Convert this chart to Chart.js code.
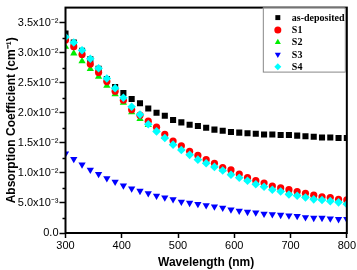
<!DOCTYPE html>
<html>
<head>
<meta charset="utf-8">
<script src="https://cdn.jsdelivr.net/npm/chart.js@4.4.0/dist/chart.umd.min.js"></script>
<style>
  html, body { margin: 0; padding: 0; background: #fff; }
  #chart { display: block; }
</style>
</head>
<body>
<canvas id="chart" width="357" height="270"></canvas>
<script>
// wavelength (nm)
const wavelengths = [300, 314.7, 329.4, 344.1, 358.8, 373.5, 388.2, 402.9, 417.6, 432.4,
    447.1, 461.8, 476.5, 491.2, 505.9, 520.6, 535.3, 550, 564.7, 579.4,
    594.1, 608.8, 623.5, 638.2, 652.9, 667.6, 682.4, 697.1, 711.8, 726.5,
    741.2, 755.9, 770.6, 785.3, 800];

const asDeposited = [0.0332, 0.0317, 0.0303, 0.0289, 0.0273, 0.0256, 0.0243, 0.0233, 0.0223, 0.0216,
    0.0207, 0.0200, 0.0195, 0.0188, 0.0184, 0.0180, 0.0178, 0.0175, 0.0172, 0.0170,
    0.0168, 0.0167, 0.0166, 0.0165, 0.0164, 0.0164, 0.0163, 0.0163, 0.0162, 0.0161,
    0.0160, 0.0159, 0.0159, 0.0158, 0.0158];

const s1 = [0.0321, 0.0310, 0.0297, 0.0281, 0.0267, 0.0252, 0.0236, 0.0221, 0.0205, 0.0196,
    0.0186, 0.0176, 0.0164, 0.0153, 0.0145, 0.0136, 0.0129, 0.0122, 0.0116, 0.0109,
    0.0105, 0.0098, 0.0092, 0.0087, 0.0083, 0.0078, 0.0075, 0.0072, 0.0069, 0.0066,
    0.0063, 0.0060, 0.0059, 0.0056, 0.0055];

const s2 = [0.0310, 0.0299, 0.0286, 0.0273, 0.0260, 0.0245, 0.0231, 0.0217, 0.0201, 0.0190,
    0.0180, 0.0172, 0.0160, 0.0150, 0.0141, 0.0133, 0.0125, 0.0119, 0.0112, 0.0106,
    0.0101, 0.0095, 0.0089, 0.0084, 0.0080, 0.0075, 0.0072, 0.0068, 0.0066, 0.0063,
    0.0060, 0.0058, 0.0056, 0.0054, 0.0052];

const s3 = [0.0132, 0.0123, 0.0114, 0.0105, 0.0098, 0.0091, 0.0085, 0.0079, 0.0074, 0.0070,
    0.0066, 0.0062, 0.0059, 0.0056, 0.0052, 0.0050, 0.0048, 0.0046, 0.0044, 0.0042,
    0.0039, 0.0037, 0.0035, 0.0034, 0.0032, 0.0031, 0.0030, 0.0029, 0.0028, 0.0026,
    0.0025, 0.0025, 0.0024, 0.0023, 0.0023];

const s4 = [0.0326, 0.0317, 0.0304, 0.0290, 0.0274, 0.0257, 0.0241, 0.0225, 0.0210, 0.0197,
    0.0181, 0.0169, 0.0158, 0.0147, 0.0138, 0.0130, 0.0122, 0.0116, 0.0110, 0.0104,
    0.0097, 0.0092, 0.0087, 0.0081, 0.0077, 0.0072, 0.0069, 0.0064, 0.0062, 0.0059,
    0.0056, 0.0055, 0.0053, 0.0051, 0.0048];

const seriesNames = ['as-deposited', 'S1', 'S2', 'S3', 'S4'];

const xTickValues = [300, 400, 500, 600, 700, 800];
const yTickValues = [0, 0.005, 0.01, 0.015, 0.02, 0.025, 0.03, 0.035];
const yTickLabels = ['0.0', '5.0x10\u207B\u00B3', '1.0x10\u207B\u00B2', '1.5x10\u207B\u00B2',
    '2.0x10\u207B\u00B2', '2.5x10\u207B\u00B2', '3.0x10\u207B\u00B2', '3.5x10\u207B\u00B2'];
const yMinorValues = [0.0025, 0.0075, 0.0125, 0.0175, 0.0225, 0.0275, 0.0325];

const toPoints = (ys) => ys.map((y, i) => ({ x: wavelengths[i], y: y }));

const tickFont = { family: 'Liberation Sans, Arial, sans-serif', size: 11 };
const titleFont = { family: 'Liberation Sans, Arial, sans-serif', size: 12, weight: 'bold' };

// frame round the plot, minor ticks on y, legend box inside the plot
const framePlugin = {
    id: 'frame',
    afterDraw(chart) {
        const ctx = chart.ctx;
        const a = chart.chartArea;
        const ys = chart.scales.y;
        ctx.save();
        ctx.strokeStyle = '#000';
        ctx.lineWidth = 1.5;
        yMinorValues.forEach((v) => {
            const py = Math.round(ys.getPixelForValue(v)) + 0.5;
            ctx.beginPath();
            ctx.moveTo(a.left - 3, py);
            ctx.lineTo(a.left, py);
            ctx.stroke();
        });
        ctx.lineWidth = 2;
        ctx.strokeRect(a.left, a.top, a.right - a.left, a.bottom - a.top);

        // legend
        const bw = 82, bh = 64;
        const bx = a.right - 2 - bw, by = a.top;
        ctx.fillStyle = '#fff';
        ctx.fillRect(bx, by, bw, bh);
        ctx.lineWidth = 1;
        ctx.strokeStyle = '#888';
        ctx.strokeRect(bx + 0.5, by + 0.5, bw, bh);
        ctx.font = 'bold 10px "Liberation Serif", "Times New Roman", serif';
        ctx.textBaseline = 'middle';
        chart.data.datasets.forEach((ds, i) => {
            const ry = by + 10 + i * 12.3;
            ctx.fillStyle = ds.backgroundColor;
            Chart.helpers.drawPoint(ctx, {
                pointStyle: ds.pointStyle,
                rotation: ds.pointRotation || 0,
                radius: 3.5,
                borderWidth: 0
            }, bx + 15, ry);
            ctx.fillStyle = '#000';
            ctx.fillText(ds.label, bx + 29, ry + 0.5);
        });
        ctx.restore();
    }
};

// lower order is drawn on top: cyan over red over green
const datasets = [
    { label: seriesNames[0], data: toPoints(asDeposited), pointStyle: 'rect', pointRadius: 4.3, backgroundColor: '#000000', order: 4 },
    { label: seriesNames[1], data: toPoints(s1), pointStyle: 'circle', pointRadius: 3.6, backgroundColor: '#ff0000', order: 1 },
    { label: seriesNames[2], data: toPoints(s2), pointStyle: 'triangle', pointRadius: 4.2, backgroundColor: '#00ee00', order: 2 },
    { label: seriesNames[3], data: toPoints(s3), pointStyle: 'triangle', pointRotation: 180, pointRadius: 4.2, backgroundColor: '#0000ff', order: 3 },
    { label: seriesNames[4], data: toPoints(s4), pointStyle: 'rectRot', pointRadius: 4.3, backgroundColor: '#00ffff', order: 0 }
];
datasets.forEach((d) => {
    d.showLine = false;
    d.pointBorderWidth = 0;
    d.pointBorderColor = d.backgroundColor;
    d.pointBackgroundColor = d.backgroundColor;
    d.borderColor = d.backgroundColor;
});

new Chart(document.getElementById('chart'), {
    type: 'scatter',
    data: { datasets: datasets },
    options: {
        responsive: false,
        animation: false,
        devicePixelRatio: 1,
        layout: { autoPadding: false, padding: { top: 1, right: 8, left: 0, bottom: 0 } },
        plugins: {
            legend: { display: false },
            tooltip: { enabled: false }
        },
        scales: {
            x: {
                type: 'linear',
                min: 300,
                max: 800,
                afterBuildTicks: (s) => { s.ticks = xTickValues.map((v) => ({ value: v })); },
                afterFit: (s) => { s.height = 37; },
                ticks: { color: '#000', font: tickFont, padding: 1, maxRotation: 0, callback: (v) => String(v) },
                grid: { drawOnChartArea: false, drawTicks: true, tickLength: 5, tickWidth: 1.5, tickColor: '#000' },
                border: { display: false },
                title: { display: true, text: 'Wavelength (nm)', color: '#000', font: titleFont, padding: { top: 0, bottom: 0 } }
            },
            y: {
                min: 0,
                max: 0.0375,
                afterBuildTicks: (s) => { s.ticks = yTickValues.map((v) => ({ value: v })); },
                afterFit: (s) => { s.width = 65.5; },
                ticks: {
                    color: '#000', font: tickFont, padding: 1,
                    callback: (v) => {
                        const k = yTickValues.findIndex((t) => Math.abs(t - v) < 1e-9);
                        return k >= 0 ? yTickLabels[k] : '';
                    }
                },
                grid: { drawOnChartArea: false, drawTicks: true, tickLength: 6, tickWidth: 1.5, tickColor: '#000' },
                border: { display: false },
                title: { display: true, text: 'Absorption Coefficient (cm\u207B\u00B9)', color: '#000', font: titleFont, padding: { top: 4, bottom: 0 } }
            }
        }
    },
    plugins: [framePlugin]
});
</script>
</body>
</html>
